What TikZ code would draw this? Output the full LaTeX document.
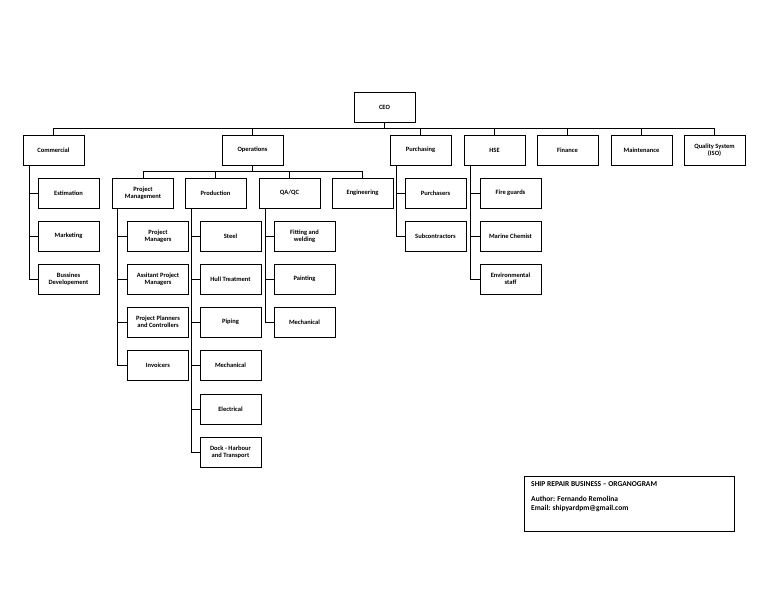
\documentclass[tikz,border=0pt]{standalone}
\usepackage{fontspec}
\setmainfont{Carlito}
\begin{document}
\begin{tikzpicture}[x=1pt,y=-1pt,
  box/.style={draw,line width=0.8pt,minimum width=61pt,minimum height=30pt,inner sep=1pt,align=center,font=\fontsize{6.5}{7}\selectfont\bfseries},
  ln/.style={line width=0.8pt}]
\useasboundingbox (0,0) rectangle (768,594);
\node[box] (ceo) at (384.5,107) {CEO};
\node[box] (com) at (53.5,150) {Commercial};
\node[box] (ops) at (252.5,150) {Operations};
\node[box] (pur) at (420.5,150) {Purchasing};
\node[box] (hse) at (494.5,150) {HSE};
\node[box] (fin) at (567.5,150) {Finance};
\node[box] (mnt) at (641.5,150) {Maintenance};
\node[box] (qs) at (714.5,150) {Quality System\\(ISO)};
\coordinate (bus) at (0,128);
\draw[ln] (ceo.south) -- (ceo.south |- bus);
\draw[ln] (com.north) -- (com.north |- bus) -- (qs.north |- bus) -- (qs.north);
\foreach \n in {ops,pur,hse,fin,mnt} \draw[ln] (\n.north) -- (\n.north |- bus);
% commercial
\node[box] (est) at (68.5,193) {Estimation};
\node[box] (mkt) at (68.5,236) {Marketing};
\node[box] (bus1) at (68.5,279) {Bussines\\Developement};
\foreach \n in {est,mkt,bus1} \draw[ln] ([xshift=7pt]com.south west) |- (\n.west);
% operations
\node[box] (pm) at (143,193) {Project\\Management};
\node[box] (prod) at (215.5,193) {Production};
\node[box] (qa) at (289.5,193) {QA/QC};
\node[box] (eng) at (362.5,193) {Engineering};
\coordinate (sb) at (0,171);
\draw[ln] (ops.south) -- (ops.south |- sb);
\draw[ln] (pm.north) -- (pm.north |- sb) -- (eng.north |- sb) -- (eng.north);
\foreach \n in {prod,qa} \draw[ln] (\n.north) -- (\n.north |- sb);
\node[box] (pm1) at (158,236) {Project\\Managers};
\node[box] (pm2) at (158,279) {Assitant Project\\Managers};
\node[box] (pm3) at (158,322) {Project Planners\\and Controllers};
\node[box] (pm4) at (158,365) {Invoicers};
\foreach \n in {pm1,pm2,pm3,pm4} \draw[ln] ([xshift=5pt]pm.south west) |- (\n.west);
\node[box] (pr1) at (230.5,236) {Steel};
\node[box] (pr2) at (230.5,279) {Hull Treatment};
\node[box] (pr3) at (230.5,322) {Piping};
\node[box] (pr4) at (230.5,365) {Mechanical};
\node[box] (pr5) at (230.5,409) {Electrical};
\node[box] (pr6) at (230.5,452) {Dock - Harbour\\and Transport};
\foreach \n in {pr1,pr2,pr3,pr4,pr5,pr6} \draw[ln] ([xshift=7pt]prod.south west) |- (\n.west);
\node[box] (q1) at (304.5,236) {Fitting and\\welding};
\node[box] (q2) at (304.5,279) {Painting};
\node[box] (q3) at (304.5,322) {Mechanical};
\foreach \n in {q1,q2,q3} \draw[ln] ([xshift=7pt]qa.south west) |- (\n.west);
% purchasing
\node[box] (p1) at (435.5,193) {Purchasers};
\node[box] (p2) at (435.5,236) {Subcontractors};
\foreach \n in {p1,p2} \draw[ln] ([xshift=7pt]pur.south west) |- (\n.west);
% HSE
\node[box] (h1) at (510.5,193) {Fire guards};
\node[box] (h2) at (510.5,236) {Marine Chemist};
\node[box] (h3) at (510.5,279) {Environmental\\staff};
\foreach \n in {h1,h2,h3} \draw[ln] ([xshift=7pt]hse.south west) |- (\n.west);
% info
\node[draw,line width=0.8pt,minimum width=210pt,minimum height=55pt,anchor=north west,inner sep=0pt] (info) at (524,476) {};
\node[anchor=north west,align=left,font=\fontsize{7.5}{9}\selectfont\bfseries,inner sep=0pt] (infot) at (531,481) {SHIP REPAIR BUSINESS -- ORGANOGRAM\\[6pt]Author: Fernando Remolina\\Email: shipyardpm@gmail.com};
\end{tikzpicture}
\end{document}
